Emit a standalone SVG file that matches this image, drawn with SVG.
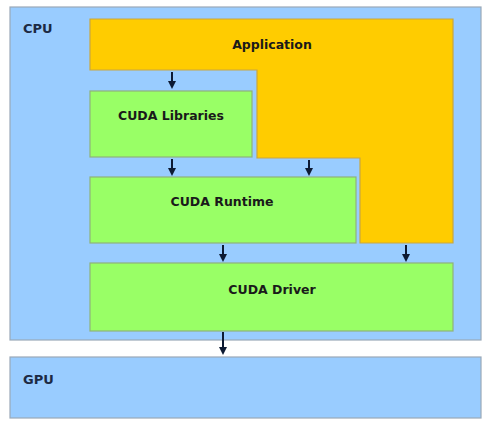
<svg xmlns="http://www.w3.org/2000/svg" width="492" height="434" viewBox="0 0 492 434">
<style>
.t{font-family:"DejaVu Sans",Verdana,sans-serif;font-weight:bold;font-size:12.5px;fill:#1a1a1a;text-anchor:middle}
.h{font-family:"DejaVu Sans",Verdana,sans-serif;font-weight:bold;font-size:13px;fill:#1c2a44}
.blue{fill:#99ccff;stroke:#9aa8b8;stroke-width:1.2}
.green{fill:#99ff66;stroke:#8fb27a;stroke-width:1.2}
.orange{fill:#ffcc00;stroke:#c9a640;stroke-width:1.2}
.c{stroke:#0d1a33;stroke-width:2;fill:none;marker-end:url(#a)}
</style>
<defs>
<marker id="a" markerWidth="8" markerHeight="8" refX="4" refY="4" orient="auto" markerUnits="userSpaceOnUse" viewBox="0 0 8 8">
<path d="M0,0 L8,4 L0,8 z" fill="#0d1a33"/>
</marker>
</defs>
<rect width="492" height="434" fill="#ffffff"/>
<g id="cpu">
<rect class="blue" x="10" y="7" width="471" height="333"/>
<text class="h" x="23" y="33">CPU</text>
</g>
<g id="gpu">
<rect class="blue" x="10" y="357" width="471" height="61"/>
<text class="h" x="23" y="384">GPU</text>
</g>
<g id="application">
<path class="orange" d="M90,19 H453 V243 H360 V158 H257 V70 H90 Z"/>
<text class="t" x="272" y="49">Application</text>
</g>
<g id="libraries">
<rect class="green" x="90" y="91" width="162" height="66"/>
<text class="t" x="171" y="120">CUDA Libraries</text>
</g>
<g id="runtime">
<rect class="green" x="90" y="177" width="266" height="66"/>
<text class="t" x="222" y="206">CUDA Runtime</text>
</g>
<g id="driver">
<rect class="green" x="90" y="263" width="363" height="68"/>
<text class="t" x="272" y="294">CUDA Driver</text>
</g>
<g id="connectors">
<line class="c" x1="172" y1="72" x2="172" y2="85"/>
<line class="c" x1="172" y1="159" x2="172" y2="172"/>
<line class="c" x1="309" y1="160" x2="309" y2="172"/>
<line class="c" x1="223" y1="245" x2="223" y2="258"/>
<line class="c" x1="406" y1="245" x2="406" y2="258"/>
<line class="c" x1="223" y1="332" x2="223" y2="351"/>
</g>
</svg>
